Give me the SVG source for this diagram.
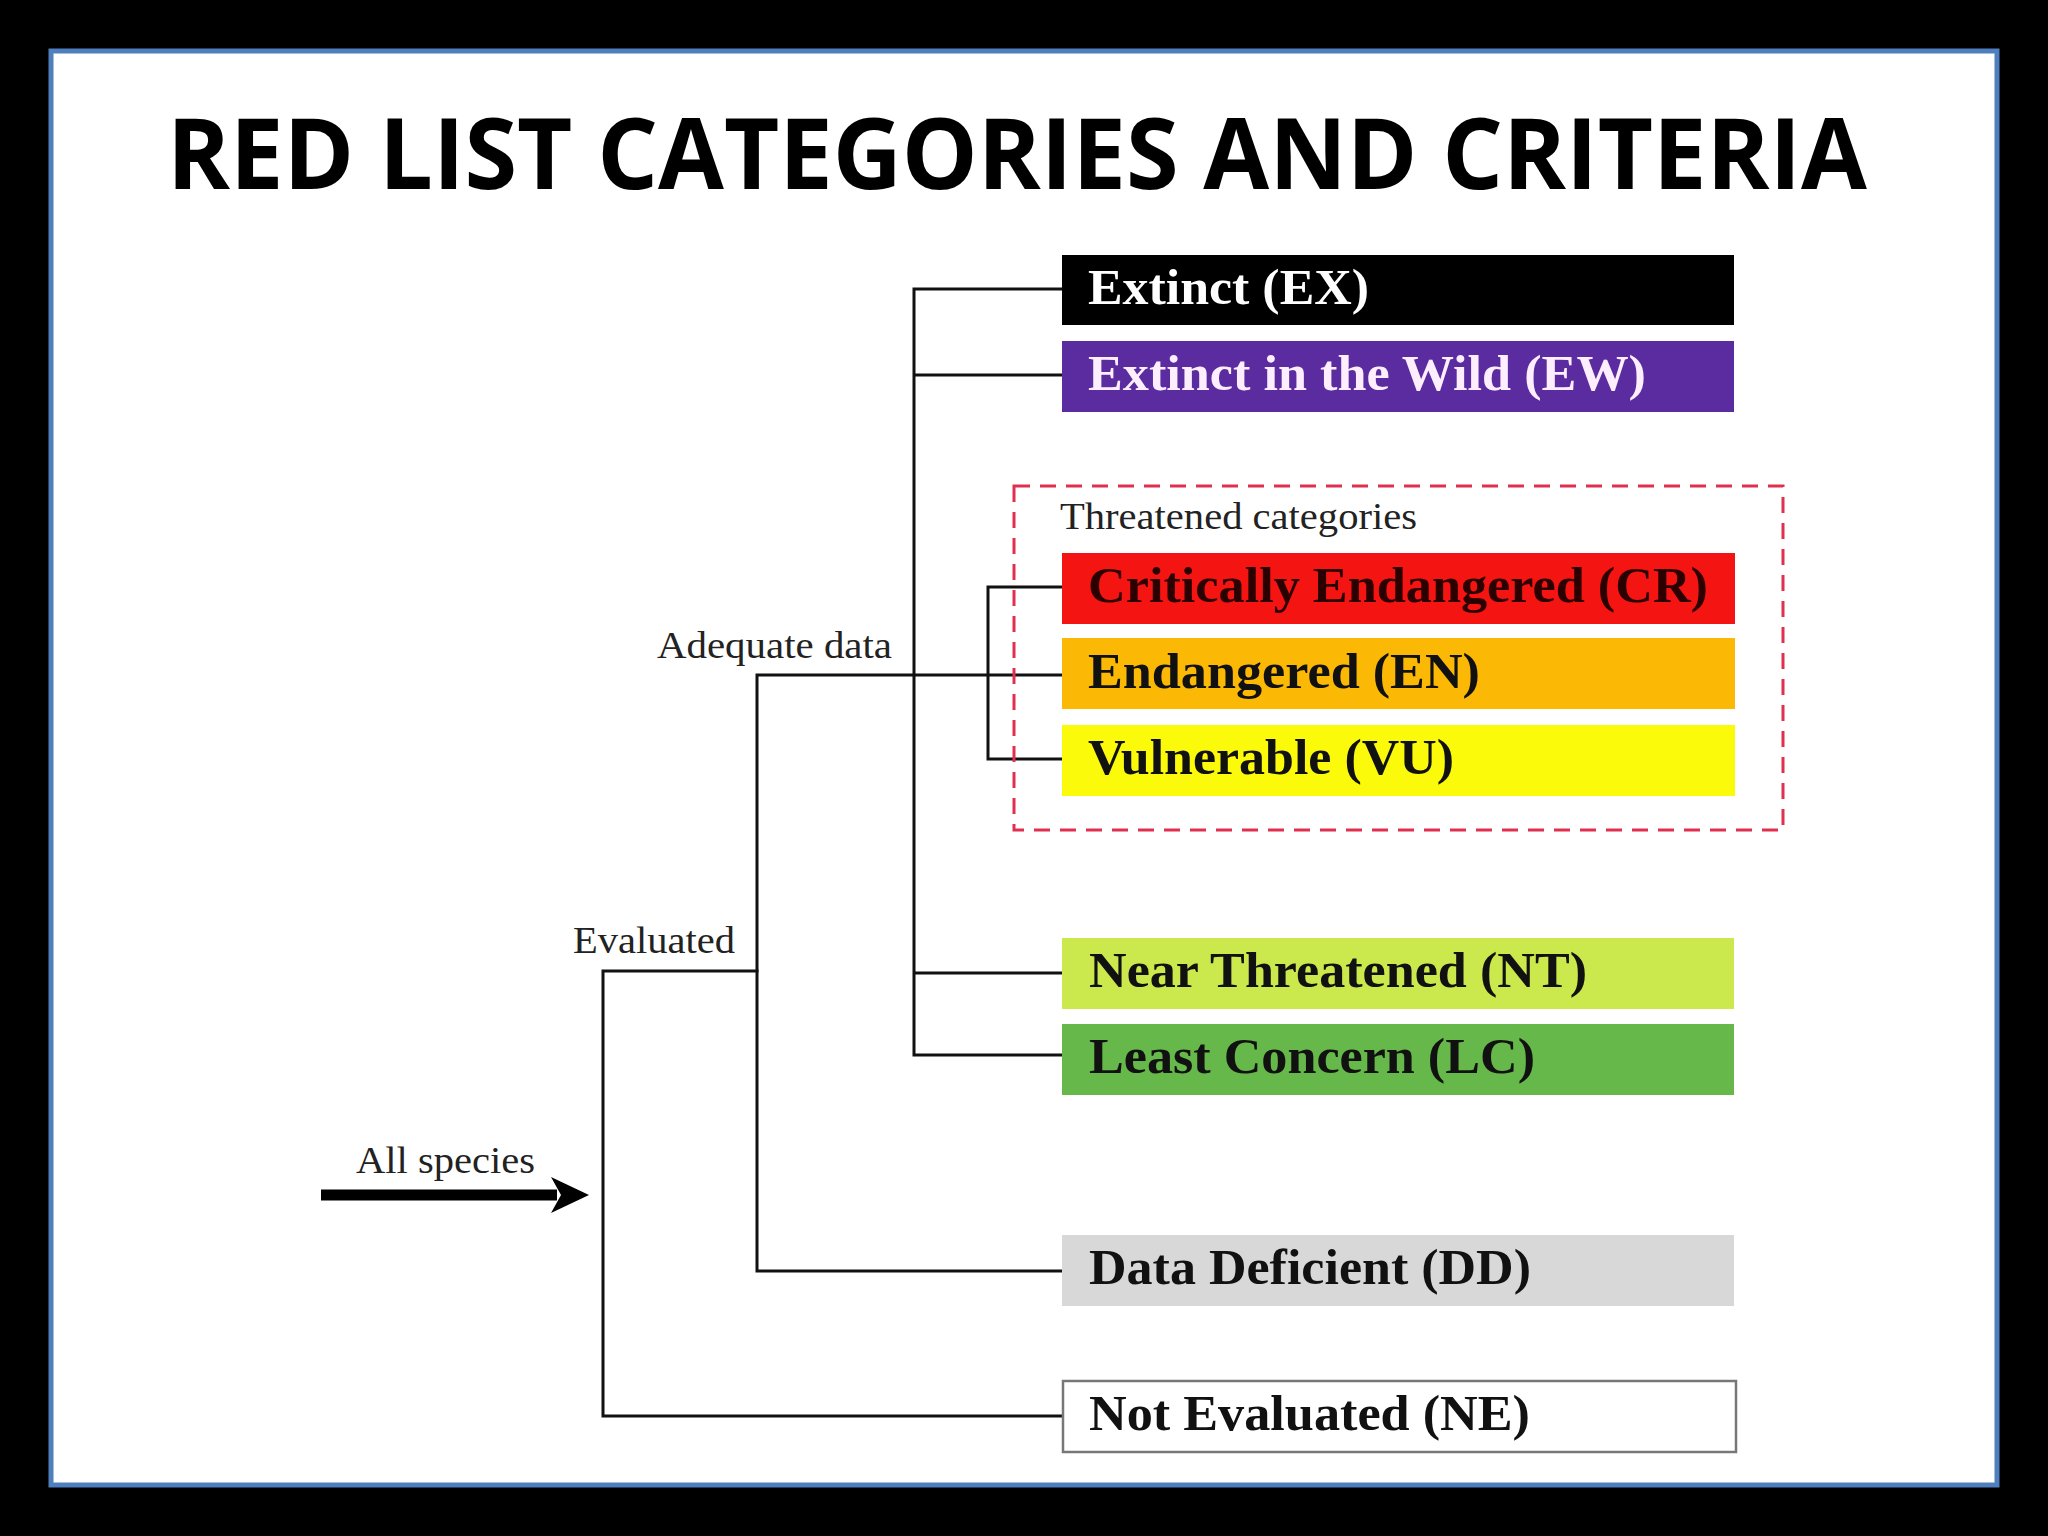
<svg xmlns="http://www.w3.org/2000/svg" width="2048" height="1536" viewBox="0 0 2048 1536">
<style>
.lbl{font-family:"Liberation Serif","Times New Roman",serif;font-weight:bold;font-size:50px;fill:#111}
.note{font-family:"Liberation Serif","Times New Roman",serif;font-size:37px;fill:#222}
.con{fill:none;stroke:#111;stroke-width:3;stroke-linecap:square}
.box{stroke:none}
</style>
<rect x="0" y="0" width="2048" height="1536" fill="#000"/>
<rect id="panel" x="51" y="51" width="1946" height="1434" fill="#fff" stroke="#4f7fbd" stroke-width="5"/>
<text id="title" x="167" y="189" textLength="1700" lengthAdjust="spacingAndGlyphs" font-family="'Open Sans','Noto Sans',sans-serif" font-weight="bold" font-size="98" fill="#000">RED LIST CATEGORIES AND CRITERIA</text>

<g id="connectors">
<path class="con" d="M603,971 V1416 H1062 M603,971 H757"/>
<path class="con" d="M757,675 V1271 H1062 M757,675 H1062"/>
<path class="con" d="M914,289 V1055 M914,289 H1062 M914,375 H1062 M914,973 H1062 M914,1055 H1062"/>
<path class="con" d="M988,587 V759 H1062 M988,587 H1062"/>
<g id="arrow">
<rect x="321" y="1189.5" width="236" height="11" fill="#000"/>
<polygon points="589,1195 551,1177 561,1195 551,1213" fill="#000"/>
</g>
</g>

<g id="threatened-group">
<rect x="1014" y="486" width="769" height="344" fill="none" stroke="#e0304f" stroke-width="3" stroke-dasharray="16,10"/>
<text class="note" x="1060" y="529" textLength="357" lengthAdjust="spacingAndGlyphs">Threatened categories</text>
</g>

<g id="label-adequate"><text class="note" x="657" y="658" textLength="235" lengthAdjust="spacingAndGlyphs">Adequate data</text></g>
<g id="label-evaluated"><text class="note" x="573" y="953" textLength="162" lengthAdjust="spacingAndGlyphs">Evaluated</text></g>
<g id="label-all"><text class="note" x="356" y="1173" textLength="179" lengthAdjust="spacingAndGlyphs">All species</text></g>

<g id="EX"><rect class="box" x="1062" y="255" width="672" height="70" fill="#000"/><text class="lbl" x="1088" y="304" style="fill:#fff" textLength="281" lengthAdjust="spacingAndGlyphs">Extinct (EX)</text></g>
<g id="EW"><rect class="box" x="1062" y="341" width="672" height="71" fill="#5a2ca0"/><text class="lbl" x="1088" y="390" style="fill:#fdeefe" textLength="558" lengthAdjust="spacingAndGlyphs">Extinct in the Wild (EW)</text></g>
<g id="CR"><rect class="box" x="1062" y="553" width="673" height="71" fill="#f41412"/><text class="lbl" x="1088" y="602" style="fill:#2a0000" textLength="620" lengthAdjust="spacingAndGlyphs">Critically Endangered (CR)</text></g>
<g id="EN"><rect class="box" x="1062" y="638" width="673" height="71" fill="#fbb905"/><text class="lbl" x="1088" y="688" textLength="392" lengthAdjust="spacingAndGlyphs">Endangered (EN)</text></g>
<g id="VU"><rect class="box" x="1062" y="725" width="673" height="71" fill="#fbfa0a"/><text class="lbl" x="1088" y="774" textLength="366" lengthAdjust="spacingAndGlyphs">Vulnerable (VU)</text></g>
<g id="NT"><rect class="box" x="1062" y="938" width="672" height="71" fill="#cbe84c"/><text class="lbl" x="1089" y="987" textLength="498" lengthAdjust="spacingAndGlyphs">Near Threatened (NT)</text></g>
<g id="LC"><rect class="box" x="1062" y="1024" width="672" height="71" fill="#66b84a"/><text class="lbl" x="1089" y="1073" textLength="446" lengthAdjust="spacingAndGlyphs">Least Concern (LC)</text></g>
<g id="DD"><rect class="box" x="1062" y="1235" width="672" height="71" fill="#d8d8d8"/><text class="lbl" x="1089" y="1284" textLength="442" lengthAdjust="spacingAndGlyphs">Data Deficient (DD)</text></g>
<g id="NE"><rect x="1063" y="1381" width="673" height="71" fill="#fff" stroke="#777" stroke-width="2.5"/><text class="lbl" x="1089" y="1430" textLength="441" lengthAdjust="spacingAndGlyphs">Not Evaluated (NE)</text></g>
</svg>
